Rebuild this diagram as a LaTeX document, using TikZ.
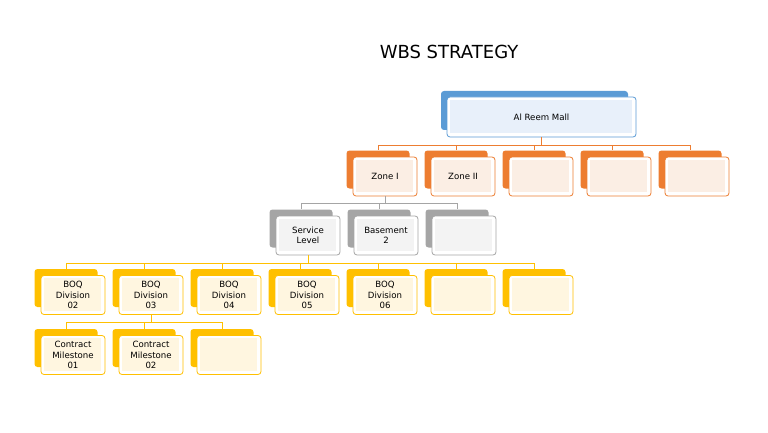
\documentclass[tikz,border=0pt]{standalone}
\usepackage{fontspec}
\setmainfont{DejaVu Sans}
\definecolor{cblue}{HTML}{5B9BD5}\definecolor{fblue}{HTML}{E8F0FA}
\definecolor{corange}{HTML}{ED7D31}\definecolor{forange}{HTML}{FBEEE4}
\definecolor{cgray}{HTML}{A5A5A5}\definecolor{fgray}{HTML}{F3F3F3}
\definecolor{cyellow}{HTML}{FFC000}\definecolor{fyellow}{HTML}{FFF6E0}
\tikzset{
  back/.style={fill=#1,draw=none,rounded corners=3pt,minimum width=63pt,minimum height=38pt,inner sep=0pt},
  front/.style={fill=white,draw=#1,line width=0.8pt,rounded corners=3pt,minimum width=64pt,minimum height=39pt,inner sep=0pt},
  link/.style={draw=#1,line width=0.7pt},
  lbl/.style={align=center,font=\fontsize{8.6}{10.2}\selectfont,inner sep=0pt}
}
\newcommand{\wbox}[6]{%
  \node[back=#4] (#1b) at (#2-7,#3-7) {};
  \node[front=#4] (#1) at (#2,#3) {};
  \fill[#5] ([shift={(3pt,-3pt)}]#1.north west) rectangle ([shift={(-4pt,4pt)}]#1.south east);
  \node[lbl] (#1t) at (#1) {#6};
}
\begin{document}
\begin{tikzpicture}[x=1pt,y=-1pt]
\useasboundingbox (0,0) rectangle (768,433);
\fill[white] (0,0) rectangle (768,433);
\node[font=\fontsize{18}{21}\selectfont] (title) at (449,52) {WBS STRATEGY};
% root
\node[back=cblue,minimum width=187pt,minimum height=39pt] (rootb) at (534.5,110.5) {};
\node[front=cblue,minimum width=189pt,minimum height=40pt] (root) at (541.5,117) {};
\fill[fblue] ([shift={(3pt,-3pt)}]root.north west) rectangle ([shift={(-4pt,4pt)}]root.south east);
\node[lbl] (roott) at (root) {Al Reem Mall};
% zones
\wbox{z1}{385}{176.5}{corange}{forange}{Zone I}
\wbox{z2}{463}{176.5}{corange}{forange}{Zone II}
\wbox{z3}{541}{176.5}{corange}{forange}{}
\wbox{z4}{619}{176.5}{corange}{forange}{}
\wbox{z5}{697}{176.5}{corange}{forange}{}
\foreach \i in {1,...,5}{\draw[link=corange] (root.south) -- ++(0,8) -| (z\i b.north);}
% gray
\wbox{g1}{308}{235.5}{cgray}{fgray}{Service\\Level}
\wbox{g2}{386}{235.5}{cgray}{fgray}{Basement\\2}
\wbox{g3}{464}{235.5}{cgray}{fgray}{}
\foreach \i in {1,2,3}{\draw[link=cgray] (z1.south) -- ++(0,7) -| (g\i b.north);}
% yellow
\wbox{y1}{73}{295}{cyellow}{fyellow}{BOQ\\Division\\02}
\wbox{y2}{151}{295}{cyellow}{fyellow}{BOQ\\Division\\03}
\wbox{y3}{229}{295}{cyellow}{fyellow}{BOQ\\Division\\04}
\wbox{y4}{307}{295}{cyellow}{fyellow}{BOQ\\Division\\05}
\wbox{y5}{385}{295}{cyellow}{fyellow}{BOQ\\Division\\06}
\wbox{y6}{463}{295}{cyellow}{fyellow}{}
\wbox{y7}{541}{295}{cyellow}{fyellow}{}
\foreach \i in {1,...,7}{\draw[link=cyellow] (g1.south) -- ++(0,8) -| (y\i b.north);}
% milestones
\wbox{m1}{73}{355}{cyellow}{fyellow}{Contract\\Milestone\\01}
\wbox{m2}{151}{355}{cyellow}{fyellow}{Contract\\Milestone\\02}
\wbox{m3}{229}{355}{cyellow}{fyellow}{}
\foreach \i in {1,2,3}{\draw[link=cyellow] (y2.south) -- ++(0,7) -| (m\i b.north);}
\end{tikzpicture}
\end{document}
